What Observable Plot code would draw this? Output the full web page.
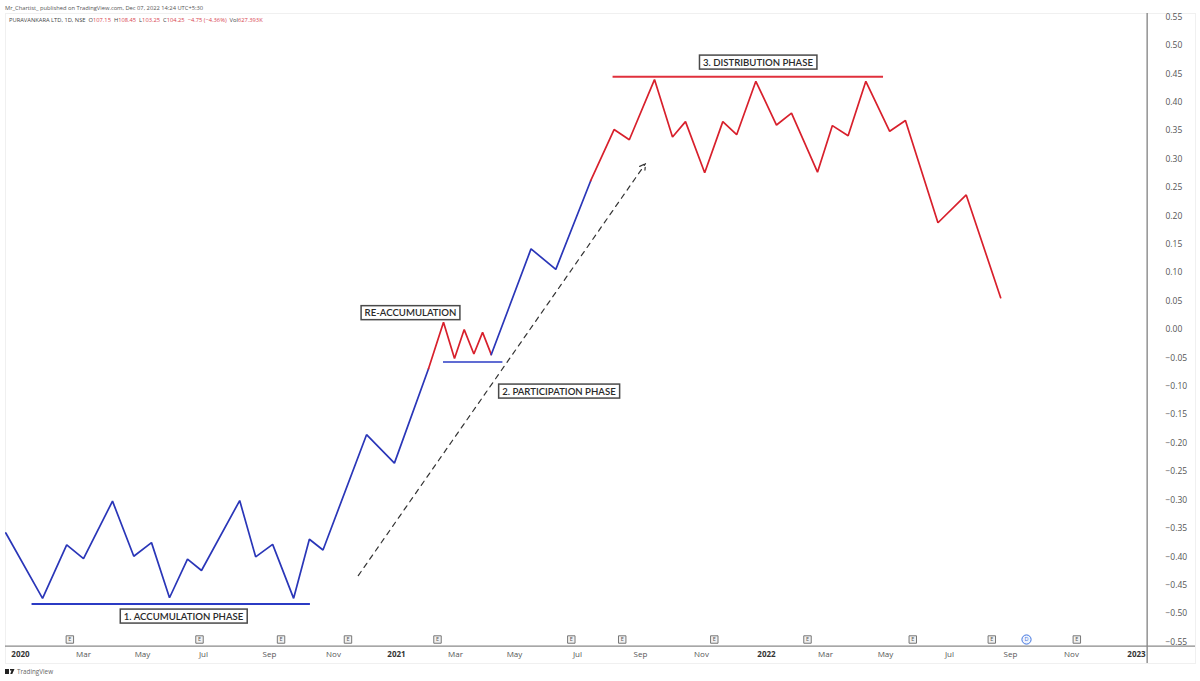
<!DOCTYPE html>
<html><head><meta charset="utf-8">
<script src="https://cdn.jsdelivr.net/npm/d3@7"></script>
<script src="https://cdn.jsdelivr.net/npm/@observablehq/plot@0.6"></script>
<style>
html,body{margin:0;padding:0;background:#fff;width:1200px;height:681px;overflow:hidden}
#wrap{position:relative;width:1200px;height:681px}
.t{position:absolute;white-space:nowrap;font-family:"Open Sans",sans-serif;color:#555}
.r{color:#d8434f}
#logo{position:absolute;left:5px;top:669px;width:4px;height:5px;background:#222}
#logo2{position:absolute;left:9.5px;top:669px;width:5px;height:5px;background:#222;clip-path:polygon(0 0,100% 0,55% 100%,15% 100%,40% 30%,0 30%)}
#wrap svg{display:block}
</style></head><body><div id="wrap">
<div class="t" id="pub" style="left:5px;top:2.5px;font-size:5.75px;line-height:10px">Mr_Chartist_ published on TradingView.com, Dec 07, 2022 14:24 UTC+5:30</div>
<div class="t" style="left:9px;top:15px;font-size:5.75px;line-height:10px;color:#444">PURAVANKARA LTD, 1D, NSE&nbsp; O<span class="r">107.15</span>&nbsp; H<span class="r">108.45</span>&nbsp; L<span class="r">103.25</span>&nbsp; C<span class="r">104.25</span>&nbsp; <span class="r">−4.75 (−4.36%)</span>&nbsp; Vol<span class="r">627.393K</span></div>
<div id="logo"></div><div id="logo2"></div>
<div class="t" style="left:17px;top:665.5px;font-size:6.3px;line-height:12px;color:#666">TradingView</div>
</div>
<script>
// Time axis: label dates and where the trading-day axis puts them
const tickDates = ["2020-01-01","2020-03-01","2020-05-01","2020-07-01","2020-09-01","2020-11-01","2021-01-01","2021-03-01","2021-05-01","2021-07-01","2021-09-01","2021-11-01","2022-01-01","2022-03-01","2022-05-01","2022-07-01","2022-09-01","2022-11-01","2023-01-01"].map(d => new Date(d));
const tickPlaces = [20,83,142,203,269,333,396,455,514,577,640,701,766,825,885,949,1010,1071,1136];
const yTicks = [-0.55,-0.5,-0.45,-0.4,-0.35,-0.3,-0.25,-0.2,-0.15,-0.1,-0.05,0,0.05,0.1,0.15,0.2,0.25,0.3,0.35,0.4,0.45,0.5,0.55];

// Price path
const pathDates = ["2019-12-18","2020-01-22","2020-02-14","2020-03-01","2020-03-31","2020-04-22","2020-05-10","2020-05-28","2020-06-15","2020-06-29","2020-08-04","2020-08-19","2020-09-04","2020-09-24","2020-10-09","2020-10-22","2020-12-03","2020-12-30","2021-02-02","2021-02-17","2021-02-28","2021-03-10","2021-03-20","2021-03-29","2021-04-07","2021-05-17","2021-06-10","2021-07-14","2021-08-06","2021-08-21","2021-09-15","2021-10-03","2021-10-16","2021-11-04","2021-11-21","2021-12-04","2021-12-22","2022-01-11","2022-01-26","2022-02-21","2022-03-08","2022-03-24","2022-04-11","2022-05-05","2022-05-20","2022-06-20","2022-07-18","2022-08-22"];
const pathValues = [-0.359,-0.474,-0.380,-0.404,-0.303,-0.400,-0.376,-0.473,-0.405,-0.425,-0.302,-0.401,-0.379,-0.474,-0.370,-0.389,-0.186,-0.236,-0.070,0.012,-0.052,-0.001,-0.044,-0.006,-0.045,0.141,0.105,0.261,0.351,0.333,0.439,0.338,0.365,0.275,0.365,0.342,0.436,0.359,0.380,0.276,0.358,0.340,0.436,0.348,0.367,0.187,0.236,0.055];
// Where the colour changes along the path (index of first and last point)
const segStart = [0,18,24,27];
const segEnd = [18,24,27,47];
const segColor = ["#2a36b8","#d8202c","#2a36b8","#d8202c"];

// Annotation levels
const levelStart = ["2020-01-12","2021-02-17","2021-08-05"];
const levelEnd = ["2020-10-10","2021-04-19","2022-04-29"];
const levelValue = [-0.484,-0.058,0.444];
const levelColor = ["#2b3bc4","#2b3bc4","#e0303c"];

// Phase labels
const phaseNames = ["1. ACCUMULATION PHASE","RE-ACCUMULATION","2. PARTICIPATION PHASE","3. DISTRIBUTION PHASE"];
const phaseDates = ["2020-06-11","2021-01-15","2021-06-13","2021-12-24"];
const phaseValues = [-0.506,0.028,-0.110,0.469];

// Event markers
const earningsDates = ["2020-02-17","2020-06-27","2020-09-12","2020-11-15","2021-02-11","2021-06-25","2021-08-14","2021-11-13","2022-02-11","2022-05-27","2022-08-13","2022-11-06"];
const dividendDates = ["2022-09-17"];
const eventLevel = -0.5465;

const path = pathDates.map((d,i) => ({date:new Date(d), value:pathValues[i]}));
const monthTicks = tickDates.filter(d => d.getUTCMonth() !== 0);
const yearTicks = tickDates.filter(d => d.getUTCMonth() === 0);
const edgeDate = new Date("2023-01-11");
const edgeValue = -0.5582;
const chromeDark = "#8a8a8a";

const plot = Plot.plot({
  width:1200, height:681,
  marginTop:13, marginBottom:18, marginLeft:5, marginRight:5,
  style:{background:"transparent", fontFamily:"'Open Sans',sans-serif"},
  x:{type:"time", domain:tickDates, range:tickPlaces},
  y:{domain:[-0.55,0.55], range:[641,16]},
  marks:[
    Plot.frame({stroke:"#f0f0f0"}),
    Plot.ruleX([edgeDate],{stroke:chromeDark,strokeWidth:1.4}),
    Plot.ruleY([edgeValue],{stroke:chromeDark,strokeWidth:1.4}),
    Plot.axisY({anchor:"right",ticks:yTicks,tickSize:0,tickPadding:0,dx:-30,dy:0.5,label:null,tickFormat:d3.format(".2f"),fontSize:8.5,fill:"#555",textAnchor:"start"}),
    Plot.axisX({anchor:"bottom",ticks:monthTicks,tickSize:0,tickPadding:0,dy:-12.5,label:null,tickFormat:d3.utcFormat("%b"),fontSize:8,fill:"#555"}),
    Plot.axisX({anchor:"bottom",ticks:yearTicks,tickSize:0,tickPadding:0,dy:-12.5,label:null,tickFormat:d3.utcFormat("%Y"),fontSize:8,fontWeight:700,fill:"#333"}),
    ...segStart.map((s,i) => Plot.line(path.slice(s,segEnd[i]+1),{x:"date",y:"value",stroke:segColor[i],strokeWidth:1.7,strokeLinejoin:"miter"})),
    ...levelValue.map((v,i) => Plot.ruleY([v],{x1:new Date(levelStart[i]),x2:new Date(levelEnd[i]),stroke:levelColor[i],strokeWidth:i===1?1.6:2})),
    Plot.arrow([{x1:new Date("2020-11-25"),y1:-0.434,x2:new Date("2021-09-06"),y2:0.291}],{x1:"x1",y1:"y1",x2:"x2",y2:"y2",bend:0,headLength:8,stroke:"#333",strokeWidth:1.2,strokeDasharray:"5 5"}),
    Plot.text(phaseNames,{x:(d,i)=>new Date(phaseDates[i]),y:(d,i)=>phaseValues[i],text:d=>d,fontFamily:"Lato",fontSize:9.6,fontWeight:600,fill:"#2a2a2a"}),
    Plot.dot(earningsDates,{x:d=>new Date(d),y:()=>eventLevel,symbol:"square",r:4.2,stroke:"#777",fill:"#f2f2f2",strokeWidth:1}),
    Plot.text(earningsDates,{x:d=>new Date(d),y:()=>eventLevel,text:()=>"E",fontSize:5.5,fill:"#555"}),
    Plot.dot(dividendDates,{x:d=>new Date(d),y:()=>eventLevel,r:4.6,stroke:"#3f74e0",fill:"#eef3fd",strokeWidth:1}),
    Plot.text(dividendDates,{x:d=>new Date(d),y:()=>eventLevel,text:()=>"D",fontSize:5.5,fill:"#3f74e0"})
  ]
});
document.getElementById("wrap").prepend(plot);
plot.style.position="absolute"; plot.style.left="0"; plot.style.top="0";

// White box with a dark outline behind each phase label
d3.select(plot).selectAll("text").filter(function(){return phaseNames.includes(this.textContent);}).each(function(){
  const b=this.getBBox();
  d3.select(this.parentNode).insert("rect",()=>this)
    .attr("x",b.x-3.5).attr("y",b.y-1.5).attr("width",b.width+7).attr("height",b.height+3)
    .attr("transform",this.getAttribute("transform"))
    .attr("fill","#fff").attr("stroke","#4a4a4a").attr("stroke-width",1.5);
});
</script></body></html>
